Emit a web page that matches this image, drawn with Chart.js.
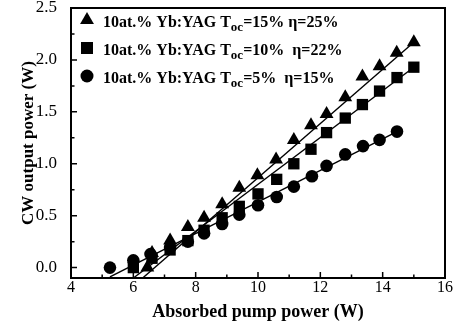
<!DOCTYPE html>
<html lang="en">
<head>
<meta charset="UTF-8">
<title>CW output power vs absorbed pump power</title>
<script src="https://cdn.jsdelivr.net/npm/chart.js"></script>
<style>
  html, body { margin: 0; padding: 0; background: #fff; }
  #wrap { width: 474px; height: 327px; }
</style>
</head>
<body>
<div id="wrap"><canvas id="powerChart" width="474" height="327"></canvas></div>
<script>
const pumpToc15  = [6.45, 6.6, 7.18, 7.75, 8.27, 8.85, 9.4, 9.98, 10.58, 11.15, 11.7, 12.2, 12.8, 13.35, 13.9, 14.45, 15.0];
const powerToc15 = [0.0, 0.14, 0.26, 0.39, 0.48, 0.61, 0.77, 0.89, 1.04, 1.23, 1.37, 1.48, 1.64, 1.84, 1.94, 2.07, 2.17];

const pumpToc10  = [6.0, 6.6, 7.18, 7.75, 8.27, 8.85, 9.4, 10.0, 10.6, 11.15, 11.7, 12.2, 12.8, 13.35, 13.9, 14.46, 15.0];
const powerToc10 = [0.0, 0.09, 0.17, 0.26, 0.36, 0.48, 0.59, 0.71, 0.85, 1.0, 1.14, 1.3, 1.44, 1.57, 1.7, 1.83, 1.93];

const pumpToc5  = [5.25, 6.0, 6.55, 7.18, 7.75, 8.27, 8.85, 9.4, 10.0, 10.6, 11.15, 11.73, 12.2, 12.8, 13.37, 13.9, 14.46];
const powerToc5 = [0.0, 0.07, 0.13, 0.19, 0.25, 0.33, 0.42, 0.51, 0.6, 0.68, 0.78, 0.88, 0.98, 1.09, 1.17, 1.23, 1.31];

// linear fit lines, end points
const fitToc15 = { x: [6.3, 15.0], y: [-0.1, 2.17] };
const fitToc10 = { x: [6.0, 15.0], y: [-0.1, 1.93] };
const fitToc5  = { x: [5.25, 14.46], y: [-0.09, 1.31] };

const xTicks = [4, 6, 8, 10, 12, 14, 16];
const xMinor = [5, 7, 9, 11, 13, 15];
const yTicks = [0, 0.5, 1.0, 1.5, 2.0, 2.5];
const yMinor = [0.25, 0.75, 1.25, 1.75, 2.25];

const legendRows = [
  { style: 'triangle', pre: '10at.% Yb:YAG T', sub: 'oc', post: '=15% \u03b7=25%' },
  { style: 'rect',     pre: '10at.% Yb:YAG T', sub: 'oc', post: '=10%  \u03b7=22%' },
  { style: 'circle',   pre: '10at.% Yb:YAG T', sub: 'oc', post: '=5%  \u03b7=15%' }
];

const serif = "'Liberation Serif', 'Times New Roman', serif";

const zip = (xs, ys) => xs.map((x, i) => ({ x: x, y: ys[i] }));

function pointSet(xs, ys, style, radius) {
  return {
    data: zip(xs, ys),
    showLine: false,
    pointStyle: style,
    pointRadius: radius,
    pointBackgroundColor: '#000',
    pointBorderColor: '#000',
    pointBorderWidth: 0
  };
}

function fitSet(fit) {
  return {
    data: zip(fit.x, fit.y),
    showLine: true,
    borderColor: '#000',
    borderWidth: 1.4,
    pointRadius: 0
  };
}

function marker(ctx, style, x, y) {
  ctx.beginPath();
  if (style === 'triangle') {
    const r = 8;
    ctx.moveTo(x, y - r);
    ctx.lineTo(x + r * 0.866, y + r * 0.5);
    ctx.lineTo(x - r * 0.866, y + r * 0.5);
    ctx.closePath();
  } else if (style === 'rect') {
    ctx.rect(x - 6, y - 6, 12, 12);
  } else {
    ctx.arc(x, y, 6.5, 0, Math.PI * 2);
  }
  ctx.fill();
}

// box, inward ticks and legend with subscript
const framePlugin = {
  id: 'frame',
  afterDraw(chart) {
    const ctx = chart.ctx;
    const a = chart.chartArea;
    const xs = chart.scales.x, ys = chart.scales.y;
    ctx.save();
    ctx.strokeStyle = '#000';
    ctx.lineWidth = 2;
    ctx.strokeRect(a.left, a.top, a.right - a.left, a.bottom - a.top);

    ctx.lineWidth = 1.5;
    ctx.beginPath();
    xTicks.forEach(v => { const p = xs.getPixelForValue(v); ctx.moveTo(p, a.bottom); ctx.lineTo(p, a.bottom - 6); });
    xMinor.forEach(v => { const p = xs.getPixelForValue(v); ctx.moveTo(p, a.bottom); ctx.lineTo(p, a.bottom - 3.5); });
    yTicks.forEach(v => { const p = ys.getPixelForValue(v); ctx.moveTo(a.left, p); ctx.lineTo(a.left + 6, p); });
    yMinor.forEach(v => { const p = ys.getPixelForValue(v); ctx.moveTo(a.left, p); ctx.lineTo(a.left + 3.5, p); });
    ctx.stroke();

    ctx.fillStyle = '#000';
    ctx.textBaseline = 'alphabetic';
    legendRows.forEach((row, i) => {
      const cy = a.top + 12 + i * 28;
      marker(ctx, row.style, a.left + 16, cy);
      let tx = a.left + 32;
      const base = cy + 7;
      ctx.font = 'bold 16px ' + serif;
      ctx.fillText(row.pre, tx, base);
      tx += ctx.measureText(row.pre).width;
      ctx.font = 'bold 13px ' + serif;
      ctx.fillText(row.sub, tx, base + 4);
      tx += ctx.measureText(row.sub).width;
      ctx.font = 'bold 16px ' + serif;
      ctx.fillText(row.post, tx, base);
    });
    ctx.restore();
  }
};

new Chart(document.getElementById('powerChart'), {
  type: 'scatter',
  data: {
    datasets: [
      fitSet(fitToc15),
      fitSet(fitToc10),
      fitSet(fitToc5),
      pointSet(pumpToc15, powerToc15, 'triangle', 8),
      pointSet(pumpToc10, powerToc10, 'rect', 8),
      pointSet(pumpToc5, powerToc5, 'circle', 6.3)
    ]
  },
  options: {
    responsive: false,
    animation: false,
    devicePixelRatio: 1,
    layout: { padding: { top: 6, right: 29, left: 0, bottom: 0 } },
    plugins: { legend: { display: false }, tooltip: { enabled: false } },
    scales: {
      x: {
        type: 'linear',
        min: 4,
        max: 16,
        afterBuildTicks: s => { s.ticks = xTicks.map(v => ({ value: v })); },
        afterFit: s => { s.height = 49; s.paddingLeft = 0; s.paddingRight = 0; },
        grid: { display: false, drawTicks: false, tickLength: 0 },
        border: { display: false },
        ticks: { color: '#000', padding: 0, font: { family: serif, size: 16 } },
        title: { display: true, text: 'Absorbed pump power (W)', color: '#000', padding: { top: 4, bottom: 4 },
                 font: { family: serif, size: 18, weight: 'bold' } }
      },
      y: {
        type: 'linear',
        min: -0.1,
        max: 2.5,
        afterBuildTicks: s => { s.ticks = yTicks.map(v => ({ value: v })); },
        afterFit: s => { s.width = 71; s.paddingTop = 0; s.paddingBottom = 0; },
        grid: { display: false },
        border: { display: false },
        ticks: { color: '#000', padding: 6, font: { family: serif, size: 17 },
                 callback: v => v.toFixed(1) },
        title: { display: true, text: 'CW output power (W)', color: '#000', padding: { top: 18, bottom: 0 },
                 font: { family: serif, size: 17, weight: 'bold' } }
      }
    }
  },
  plugins: [framePlugin]
});
</script>
</body>
</html>
